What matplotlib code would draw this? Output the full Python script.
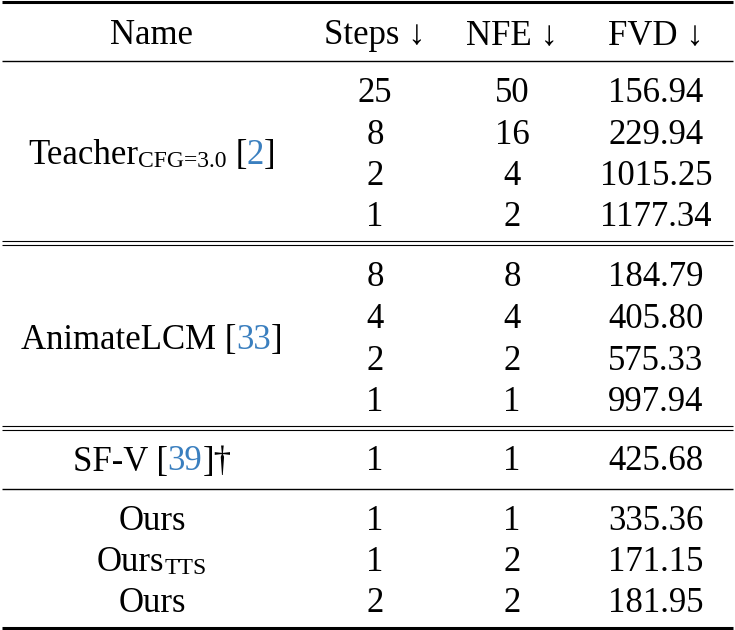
import matplotlib
matplotlib.use("Agg")
import matplotlib.pyplot as plt

plt.rcParams['font.family'] = ['Liberation Serif', 'DejaVu Serif']

headers = ["Name", "Steps ↓", "NFE ↓", "FVD ↓"]
BLUE = "#3a7fbf"
# parts: (text, colour, is_subscript)
groups = [
    ([("Teacher", "k", False), ("CFG=3.0", "k", True), (" [", "k", False), ("2", BLUE, False), ("]", "k", False)],
     [(25, 50, "156.94"), (8, 16, "229.94"), (2, 4, "1015.25"), (1, 2, "1177.34")]),
    ([("AnimateLCM [", "k", False), ("33", BLUE, False), ("]", "k", False)],
     [(8, 8, "184.79"), (4, 4, "405.80"), (2, 2, "575.33"), (1, 1, "997.94")]),
    ([("SF-V [", "k", False), ("39", BLUE, False), ("]†", "k", False)],
     [(1, 1, "425.68")]),
]
ours_names = [[("Ours", "k", False)], [("Ours", "k", False), ("TTS", "k", True)], [("Ours", "k", False)]]
ours_vals = [(1, 1, "335.36"), (1, 2, "171.15"), (2, 2, "181.95")]

W, H = 735, 630
fig = plt.figure(figsize=(W/100, H/100), dpi=100)
ax = fig.add_axes([0, 0, 1, 1])
ax.set_xlim(0, W); ax.set_ylim(H, 0); ax.axis('off')
fs = 25
sfs = 17
cols = [152, 375, 512, 656]
renderer = fig.canvas.get_renderer()
step = 41.5

def composite(parts, xc, y):
    texts = []
    for s, c, sub in parts:
        texts.append(ax.text(0, y + (7 if sub else 0), s, color=c, fontsize=sfs if sub else fs,
                             va='center_baseline', ha='left'))
    inv = ax.transData.inverted()
    widths = []
    for t in texts:
        bb = t.get_window_extent(renderer)
        widths.append(inv.transform((bb.x1, 0))[0] - inv.transform((bb.x0, 0))[0])
    x = xc - sum(widths) / 2
    for t, w in zip(texts, widths):
        t.set_x(x); x += w

def row(vals, yy):
    for c, v in zip(cols[1:], vals):
        ax.text(c, yy, str(v), fontsize=fs, ha='center', va='center_baseline')

for c, h in zip(cols, headers):
    ax.text(c, 32, h, fontsize=fs, ha='center', va='center_baseline')

starts = [89.5, 274, 458]
for (name, rows), y0 in zip(groups, starts):
    ys = [y0 + step*i for i in range(len(rows))]
    composite(name, cols[0], sum(ys)/len(ys))
    for yy, vals in zip(ys, rows):
        row(vals, yy)
for i, (nm, vals) in enumerate(zip(ours_names, ours_vals)):
    yy = 517 + step*i
    composite(nm, cols[0], yy)
    row(vals, yy)

rules = [(2, 2.2), (60.5, 1.0), (241, 0.8), (245, 0.8), (426, 0.8), (430, 0.8), (489, 1.0), (628, 2.2)]
for ry, lw in rules:
    ax.hlines(ry, 2, 733, color='k', linewidth=lw)
fig.savefig("out.png", dpi=100)
